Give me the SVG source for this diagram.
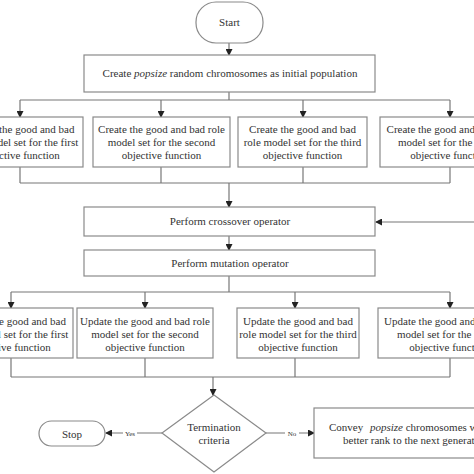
<svg xmlns="http://www.w3.org/2000/svg" width="474" height="474" viewBox="0 0 474 474">
<defs>
<marker id="ah" markerWidth="7" markerHeight="7" refX="6" refY="3.5" orient="auto" markerUnits="userSpaceOnUse">
<path d="M0,0 L7,3.5 L0,7 Z" fill="#222"/>
</marker>
<style>
.box{fill:#fff;stroke:#8a8a8a;stroke-width:1.2}
.ln{fill:none;stroke:#777;stroke-width:1.2}
.ar{fill:none;stroke:#777;stroke-width:1.2;marker-end:url(#ah)}
text{font-family:"Liberation Serif","Times New Roman",serif;font-size:11px;fill:#333;text-anchor:middle}
.sm{font-size:7px}
.st{text-anchor:start}
</style>
</defs>
<rect width="474" height="474" fill="#fff"/>
<g id="connectors">
<line class="ar" x1="229" y1="43" x2="229" y2="55"/>
<polyline class="ln" points="229,92 229,100"/>
<line class="ln" x1="20" y1="100" x2="450" y2="100"/>
<line class="ar" x1="20" y1="100" x2="20" y2="117"/>
<line class="ar" x1="161" y1="100" x2="161" y2="117"/>
<line class="ar" x1="303" y1="100" x2="303" y2="117"/>
<line class="ar" x1="450" y1="100" x2="450" y2="117"/>
<line class="ln" x1="20" y1="167" x2="20" y2="183"/>
<line class="ln" x1="161" y1="167" x2="161" y2="183"/>
<line class="ln" x1="303" y1="167" x2="303" y2="183"/>
<line class="ln" x1="450" y1="167" x2="450" y2="183"/>
<line class="ln" x1="20" y1="183" x2="450" y2="183"/>
<line class="ar" x1="229" y1="183" x2="229" y2="207"/>
<line class="ar" x1="474" y1="222" x2="376" y2="222"/>
<line class="ar" x1="229" y1="236" x2="229" y2="250"/>
<line class="ln" x1="229" y1="276" x2="229" y2="292"/>
<line class="ln" x1="11" y1="292" x2="450" y2="292"/>
<line class="ar" x1="11" y1="292" x2="11" y2="308"/>
<line class="ar" x1="145" y1="292" x2="145" y2="308"/>
<line class="ar" x1="295" y1="292" x2="295" y2="308"/>
<line class="ar" x1="450" y1="292" x2="450" y2="308"/>
<line class="ln" x1="11" y1="358" x2="11" y2="377"/>
<line class="ln" x1="145" y1="358" x2="145" y2="377"/>
<line class="ln" x1="295" y1="358" x2="295" y2="377"/>
<line class="ln" x1="450" y1="358" x2="450" y2="377"/>
<line class="ln" x1="11" y1="377" x2="450" y2="377"/>
<line class="ar" x1="213" y1="377" x2="213" y2="395"/>
<line class="ar" x1="162" y1="433" x2="106" y2="433"/>
<line class="ar" x1="266" y1="433" x2="314" y2="433"/>
<rect x="123" y="428" width="14" height="9" fill="#fff"/>
<text class="sm" x="130" y="435.5">Yes</text>
<rect x="285" y="428" width="14" height="9" fill="#fff"/>
<text class="sm" x="292" y="435.5">No</text>
</g>
<g id="start">
<rect class="box" x="196" y="2" width="67" height="41" rx="20"/>
<text x="229.5" y="26">Start</text>
</g>
<g id="init">
<rect class="box" x="84" y="55" width="291" height="37"/>
<text x="230" y="77">Create <tspan font-style="italic">popsize</tspan> random chromosomes as initial population</text>
</g>
<g id="create1">
<rect class="box" x="-43" y="117" width="126" height="50"/>
<text x="21" y="133">Create the good and bad</text>
<text x="21" y="146">role model set for the first</text>
<text x="20" y="159">objective function</text>
</g>
<g id="create2">
<rect class="box" x="93" y="117" width="137" height="50"/>
<text x="161.5" y="133">Create the good and bad role</text>
<text x="161.5" y="146">model set for the second</text>
<text x="161.5" y="159">objective function</text>
</g>
<g id="create3">
<rect class="box" x="238" y="117" width="129" height="50"/>
<text x="302.5" y="133">Create the good and bad</text>
<text x="302.5" y="146">role model set for the third</text>
<text x="302.5" y="159">objective function</text>
</g>
<g id="create4">
<rect class="box" x="380" y="117" width="140" height="50"/>
<text x="450" y="133">Create the good and bad role</text>
<text x="450" y="146">model set for the fourth</text>
<text x="450" y="159">objective function</text>
</g>
<g id="crossover">
<rect class="box" x="84" y="207" width="291" height="29"/>
<text x="230" y="225">Perform crossover operator</text>
</g>
<g id="mutation">
<rect class="box" x="84" y="250" width="291" height="26"/>
<text x="230" y="267">Perform mutation operator</text>
</g>
<g id="update1">
<rect class="box" x="-51" y="308" width="124" height="50"/>
<text x="11" y="325">Update the good and bad</text>
<text x="11" y="338">role model set for the first</text>
<text x="11" y="351">objective function</text>
</g>
<g id="update2">
<rect class="box" x="77" y="308" width="136" height="50"/>
<text x="145" y="325">Update the good and bad role</text>
<text x="145" y="338">model set for the second</text>
<text x="145" y="351">objective function</text>
</g>
<g id="update3">
<rect class="box" x="237" y="308" width="122" height="50"/>
<text x="298" y="325">Update the good and bad</text>
<text x="298" y="338">role model set for the third</text>
<text x="298" y="351">objective function</text>
</g>
<g id="update4">
<rect class="box" x="378" y="308" width="144" height="50"/>
<text x="449" y="325">Update the good and bad role</text>
<text x="449" y="338">model set for the fourth</text>
<text x="449" y="351">objective function</text>
</g>
<g id="termination">
<polygon class="box" points="214,395 266,433 214,472 162,433"/>
<text x="214" y="431">Termination</text>
<text x="214" y="444">criteria</text>
</g>
<g id="stop">
<rect class="box" x="39" y="421" width="66" height="25" rx="12.5"/>
<text x="72" y="438">Stop</text>
</g>
<g id="convey">
<rect class="box" x="314" y="408" width="200" height="50"/>
<text class="st" x="329" y="431">Convey <tspan dx="4" font-style="italic">popsize</tspan> chromosomes with</text>
<text class="st" x="343" y="444">better rank to the next generation</text>
</g>
</svg>
